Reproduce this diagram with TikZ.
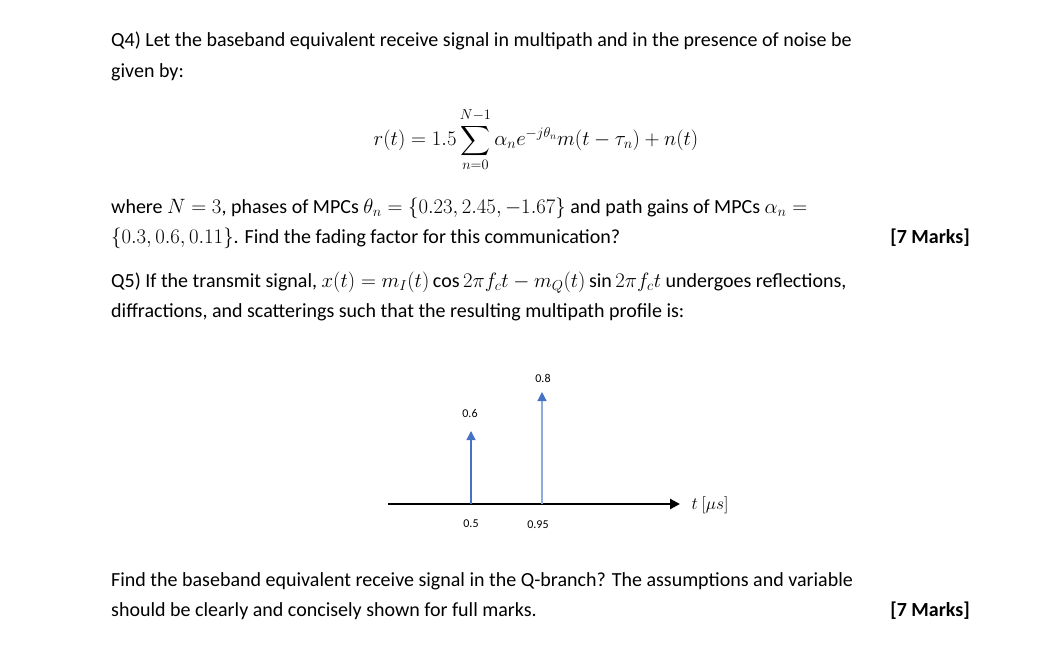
\documentclass[tikz,border=0pt]{standalone}
\usepackage{amsmath}
\usepackage{fontspec}
\setmainfont{Carlito}
\usetikzlibrary{arrows.meta}
\definecolor{dblue}{RGB}{68,114,196}
\definecolor{lblue}{RGB}{143,170,220}
\begin{document}
\begin{tikzpicture}[x=1pt,y=-1pt,
  txt/.style={anchor=base west,inner sep=0pt,font=\fontsize{20}{24}\selectfont},
  mk/.style={anchor=base east,inner sep=0pt,font=\fontsize{20}{24}\selectfont\bfseries},
  lab/.style={inner sep=0pt,font=\fontsize{12}{14}\selectfont},
  stem/.style={line width=1.2pt,-{Triangle[width=9pt,length=9pt,color=dblue]}}]
\useasboundingbox (0,0) rectangle (1044,658);
\node[txt] (l1) at (111,47) {Q4) Let the baseband equivalent receive signal in multipath and in the presence of noise be};
\node[txt] (l2) at (111,78) {given by:};
\node[inner sep=0pt,font=\fontsize{20}{24}\selectfont] (eq) at (536,140) {$\displaystyle r(t)=1.5\sum_{n=0}^{N-1}\alpha_n e^{-j\theta_n} m(t-\tau_n)+n(t)$};
\node[txt] (l3) at (111,213) {where $N=3$, phases of MPCs $\theta_n=\{0.23,2.45,-1.67\}$ and path gains of MPCs $\alpha_n=$};
\node[txt] (l4) at (111,243) {$\{0.3,0.6,0.11\}$. Find the fading factor for this communication?};
\node[mk] (m1) at (970,243) {[7 Marks]};
\node[txt] (l5) at (111,287) {Q5) If the transmit signal, $x(t)=m_I(t)\cos 2\pi f_c t-m_Q(t)\sin 2\pi f_c t$ undergoes reflections,};
\node[txt] (l6) at (111,317) {diffractions, and scatterings such that the resulting multipath profile is:};
\coordinate (a0) at (388,504);
\coordinate (a1) at (680,504);
\draw[line width=2.2pt,-{Triangle[width=10pt,length=10pt]}] (a0) -- (a1);
\coordinate (s1b) at (471,504); \coordinate (s1t) at (471,431);
\coordinate (s2b) at (542,504); \coordinate (s2t) at (542,392);
\draw[stem,draw=dblue] (s1b) -- (s1t);
\draw[stem,draw=lblue] (s2b) -- (s2t);
\node[lab] (v1) at (470,413) {0.6};
\node[lab] (v2) at (543,378) {0.8};
\node[lab] (t1) at (471,524) {0.5};
\node[lab] (t2) at (538,525) {0.95};
\node[inner sep=0pt,font=\fontsize{17}{20}\selectfont] (ax) at (710,505) {$t\ [\mu s]$};
\node[txt] (l7) at (111,586) {Find the baseband equivalent receive signal in the Q-branch? The assumptions and variable};
\node[txt] (l8) at (111,616) {should be clearly and concisely shown for full marks.};
\node[mk] (m2) at (970,616) {[7 Marks]};
\end{tikzpicture}
\end{document}
